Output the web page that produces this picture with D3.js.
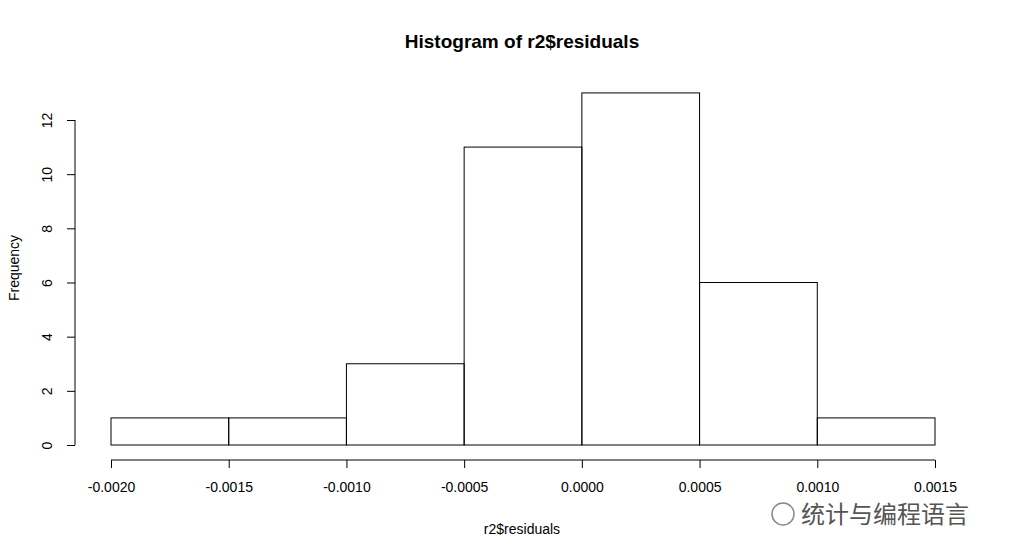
<!DOCTYPE html>
<html><head><meta charset="utf-8">
<script src="https://cdn.jsdelivr.net/npm/d3@7"></script>
<style>body{margin:0;background:#fff}</style>
</head><body><div id="main"></div>
<script>
// histogram breaks and counts
var breaks = [-0.002, -0.0015, -0.001, -0.0005, 0, 0.0005, 0.001, 0.0015];
var counts = [1, 1, 3, 11, 13, 6, 1];
var xTicks = ["-0.0020","-0.0015","-0.0010","-0.0005","0.0000","0.0005","0.0010","0.0015"];
var yTicks = [0, 2, 4, 6, 8, 10, 12];

var svg = d3.select('#main').append('svg').attr('width', 1009).attr('height', 558);
var font = 'Arial, "Liberation Sans", sans-serif';

var x = d3.scaleLinear().domain([-0.002, 0.0015]).range([111, 935]);
var y = d3.scaleLinear().domain([0, 12]).range([445, 120]);

svg.selectAll('rect.bar').data(counts).enter().append('rect')
	.attr('x', function(d, i){ return x(breaks[i]); })
	.attr('y', function(d){ return y(d); })
	.attr('width', function(d, i){ return x(breaks[i+1]) - x(breaks[i]); })
	.attr('height', function(d){ return y(0) - y(d); })
	.style('fill', 'none').style('stroke', 'black').style('stroke-width', 1);

// x axis
var gx = svg.append('g').attr('transform', 'translate(0,460)')
	.call(d3.axisBottom(x).tickValues(breaks).tickSize(8).tickPadding(14)
		.tickFormat(function(d, i){ return xTicks[i]; }));
gx.select('.domain').attr('d', 'M' + x(-0.002) + ',0H' + x(0.0015));
gx.selectAll('text').style('font-family', font).style('font-size', '14px');

// y axis
var gy = svg.append('g').attr('transform', 'translate(75,0)')
	.call(d3.axisLeft(y).tickValues(yTicks).tickSize(8));
gy.select('.domain').attr('d', 'M0,' + y(0) + 'V' + y(12));
gy.selectAll('text').style('font-family', font).style('font-size', '14px')
	.attr('text-anchor', 'middle')
	.attr('transform', 'translate(-28,0) rotate(-90)')
	.attr('x', 0).attr('y', 0).attr('dy', '0.35em');

svg.append('text').attr('x', 522).attr('y', 48).attr('text-anchor', 'middle')
	.style('font-family', font).style('font-size', '19px').style('font-weight', 'bold')
	.text('Histogram of r2$residuals');
svg.append('text').attr('x', 522).attr('y', 534).attr('text-anchor', 'middle')
	.style('font-family', font).style('font-size', '14px').text('r2$residuals');
svg.append('text').attr('transform', 'translate(19,268) rotate(-90)').attr('text-anchor', 'middle')
	.style('font-family', font).style('font-size', '14px').text('Frequency');

// watermark
svg.append('text').attr('x', 801).attr('y', 523)
	.style('font-family', '"Noto Sans CJK SC"').style('font-size', '24px').style('fill', '#555')
	.text('统计与编程语言');
svg.append('circle').attr('cx', 783).attr('cy', 514).attr('r', 11)
	.style('fill', 'none').style('stroke', '#888').style('stroke-width', 1.5);
</script></body></html>
